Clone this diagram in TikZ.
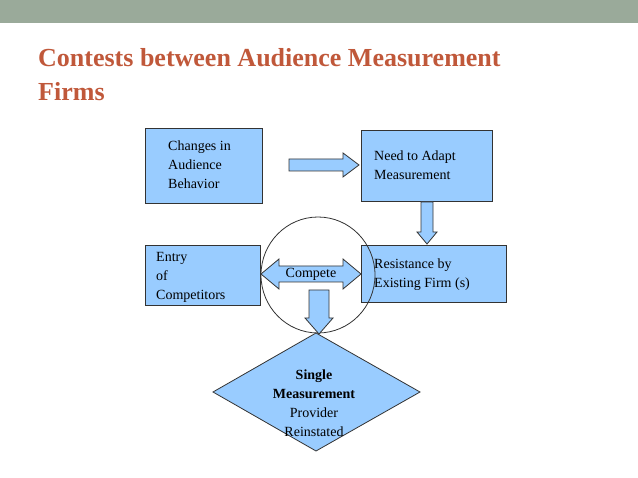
\documentclass[tikz,border=0pt]{standalone}
\usepackage{fontspec}
\setmainfont{Liberation Serif}
\usetikzlibrary{shapes.geometric}
\definecolor{bar}{HTML}{9AAA9A}
\definecolor{ttl}{HTML}{C0583A}
\definecolor{fillb}{HTML}{99CCFF}
\tikzset{
 box/.style={draw=black!80,fill=fillb,line width=0.8pt},
 txt/.style={font=\fontsize{14}{19}\selectfont,align=left,anchor=north west,inner sep=0pt},
 barrow/.style={draw=black!80,fill=fillb,line width=0.8pt}
}
\begin{document}
\begin{tikzpicture}[x=1pt,y=-1pt]
\useasboundingbox (0,0) rectangle (638,478);
\fill[bar] (0,0) rectangle (638,23);
\node[anchor=west,inner sep=0pt,text=ttl,font=\bfseries\fontsize{26}{34}\selectfont,align=left] (title) at (38,75) {Contests between Audience Measurement\\Firms};
\draw[box] (145,128) rectangle (262,203);
\node[txt] (b1) at (168,141) {Changes in\\Audience\\Behavior};
\draw[box] (361,130) rectangle (492,201);
\node[txt] (b2) at (374,151) {Need to Adapt\\Measurement};
\draw[box] (145,245) rectangle (260,305);
\node[txt] (b3) at (156,252) {Entry\\of\\Competitors};
\draw[box] (361,245) rectangle (506,302);
\node[txt] (b4) at (374,259) {Resistance by\\Existing Firm (s)};
% right arrow
\draw[barrow] (289,159)--(343,159)--(343,153)--(359,165)--(343,177)--(343,171)--(289,171)--cycle;
% down arrow
\draw[barrow] (421,202)--(433,202)--(433,232)--(437,232)--(427,244)--(417,232)--(421,232)--cycle;
% double arrow
\draw[barrow] (261,274)--(279,259)--(279,266)--(343,266)--(343,259)--(361,274)--(343,289)--(343,282)--(279,282)--(279,289)--cycle;
\node[font=\fontsize{14}{17}\selectfont,inner sep=0pt] (cmp) at (311,274) {Compete};
% circle
\draw[black!80,line width=0.8pt] (318,275) ellipse (57 and 58);
% diamond
\draw[box] (316,333)--(420,392)--(316,451)--(213,392)--cycle;
\node[font=\fontsize{14}{19}\selectfont,align=center,inner sep=0pt] (d) at (314,403) {\textbf{Single}\\\textbf{Measurement}\\Provider\\Reinstated};
% down arrow into diamond
\draw[barrow] (309,290)--(329,290)--(329,318)--(333,318)--(319,334)--(305,318)--(309,318)--cycle;
\end{tikzpicture}
\end{document}
